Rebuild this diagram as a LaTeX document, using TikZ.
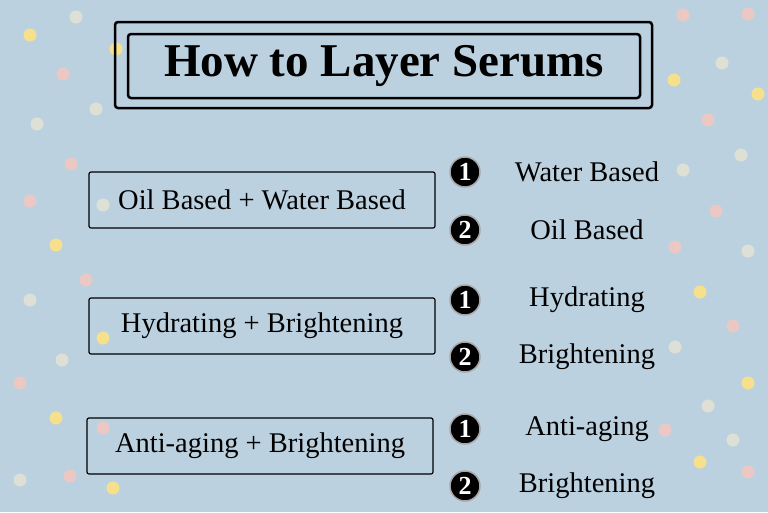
\documentclass[tikz,border=0pt]{standalone}
\usepackage{fontspec}
\setmainfont{Liberation Serif}
\begin{document}
\begin{tikzpicture}[x=1pt,y=-1pt,
  dot/.style={circle,inner sep=0pt,minimum size=13pt},
  box/.style={draw=black,line width=1.2pt,rounded corners=2pt},
  lab/.style={font=\fontsize{28.5}{32}\selectfont},
  badge/.style={circle,fill=black,draw=gray!70,line width=1.5pt,minimum size=30pt,inner sep=0pt,text=white,font=\fontsize{26}{28}\selectfont\bfseries}]
\fill[fill={rgb,255:red,188;green,209;blue,223}] (0,0) rectangle (768,512);
\useasboundingbox (0,0) rectangle (768,512);
\definecolor{dy}{RGB}{246,224,140}
\definecolor{dp}{RGB}{236,200,196}
\definecolor{dc}{RGB}{222,224,214}
\foreach \x/\y/\c in {30/35/dy,76/17/dc,63/74/dp,96/109/dc,37/124/dc,116/49/dy,71/164/dp,30/201/dp,56/245/dy,103/205/dc,86/280/dp,30/300/dc,62/360/dc,103/338/dy,20/383/dp,56/418/dy,103/428/dp,70/476/dp,20/480/dc,113/488/dy,683/15/dp,748/14/dp,722/63/dc,674/80/dy,758/94/dy,708/120/dp,741/155/dc,683/170/dc,716/211/dp,748/251/dc,675/247/dp,700/292/dy,733/326/dp,675/347/dc,748/383/dy,708/406/dc,665/430/dp,733/440/dc,700/462/dy,748/472/dp}
  \fill[\c] (\x,\y) circle (6.5);
\draw[line width=2.5pt,rounded corners=3pt] (115,22) rectangle (652,108);
\node[draw,line width=2.5pt,rounded corners=3pt,minimum width=512pt,minimum height=64pt,font=\fontsize{47}{50}\selectfont\bfseries] (title) at (384,66) {How to Layer Serums};
\node[box,minimum width=346pt,minimum height=56pt,lab] (b1) at (262,200) {Oil Based + Water Based};
\node[box,minimum width=346pt,minimum height=56pt,lab] (b2) at (262,326) {Hydrating + Brightening};
\node[box,minimum width=346pt,minimum height=56pt,lab] (b3) at (260,446) {Anti-aging + Brightening};
\foreach \n/\y/\k/\t in {n1/172/1/Water Based,n2/230/2/Oil Based,n3/300/1/Hydrating,n4/357/2/Brightening,n5/429/1/Anti-aging,n6/486/2/Brightening}{
  \node[badge] (\n) at (465,\y) {\k};
  \node[lab] (t\n) at (587,\y) {\t};
}
\end{tikzpicture}
\end{document}
